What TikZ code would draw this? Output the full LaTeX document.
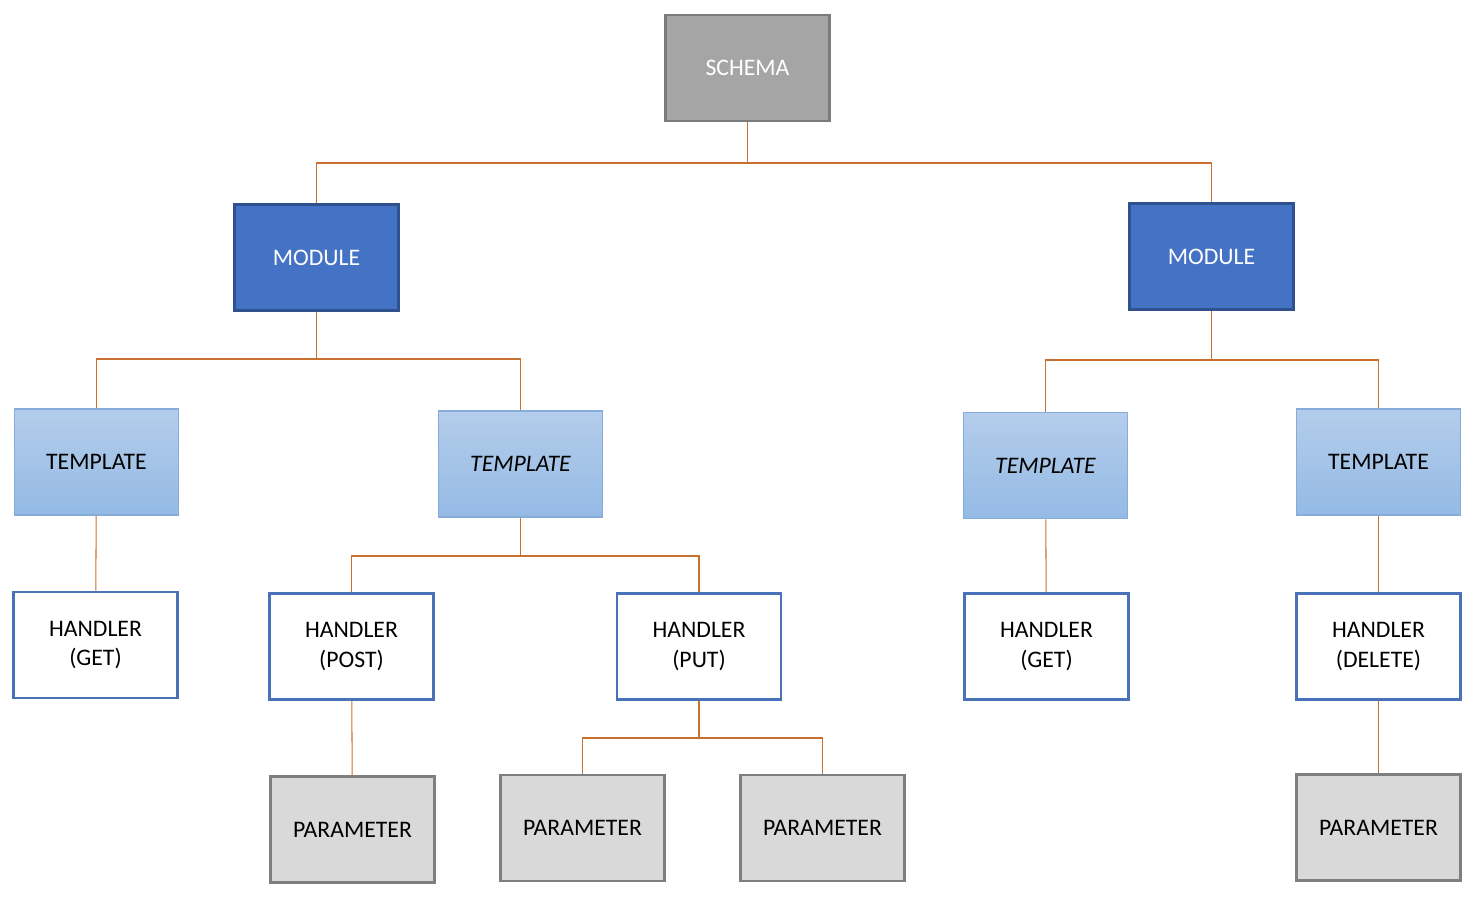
\documentclass[tikz,border=0pt]{standalone}
\usepackage{fontspec}
\setmainfont{Carlito}

\definecolor{schemafill}{HTML}{A5A5A5}
\definecolor{schemaline}{HTML}{7B7B7B}
\definecolor{modfill}{HTML}{4472C4}
\definecolor{modline}{HTML}{2F528F}
\definecolor{tpltop}{HTML}{B4CDEB}
\definecolor{tplbot}{HTML}{94BAE4}
\definecolor{tplline}{HTML}{86ACDC}
\definecolor{hdlline}{HTML}{4A72B8}
\definecolor{parfill}{HTML}{D9D9D9}
\definecolor{parline}{HTML}{7F7F7F}
\definecolor{linkc}{HTML}{C8702F}

\tikzset{
  box/.style={rectangle,draw,line width=1.5pt,inner sep=0pt,
    minimum width=3.28cm,minimum height=2.12cm,align=center,
    font=\fontsize{13.5}{16.6}\selectfont},
  schemabox/.style={box,fill=schemafill,draw=schemaline,text=white},
  modbox/.style={box,fill=modfill,draw=modline,text=white},
  tplbox/.style={box,top color=tpltop,bottom color=tplbot,draw=tplline,line width=1pt},
  hdlbox/.style={box,fill=white,draw=hdlline},
  parbox/.style={box,fill=parfill,draw=parline},
  link/.style={draw=linkc,line width=0.6pt}
}

\begin{document}
\begin{tikzpicture}[x=0.02cm,y=-0.02cm]

        \useasboundingbox (0,0) rectangle (1474,898);

        \node[schemabox] (s) at (747.5,68) {SCHEMA};

        \node[modbox] (m1) at (316.5,257.5)  {MODULE};
        \node[modbox] (m2) at (1211.5,256.5) {MODULE};

        \node[tplbox] (t1) at (96.5,462)    {TEMPLATE};
        \node[tplbox] (t2) at (520.5,464)   {\itshape TEMPLATE};
        \node[tplbox] (t3) at (1045.5,465.5) {\itshape TEMPLATE};
        \node[tplbox] (t4) at (1378.5,462)  {TEMPLATE};

        \node[hdlbox] (h1) at (95.5,645)    {HANDLER\\(GET)};
        \node[hdlbox] (h2) at (351.5,646.5) {HANDLER\\(POST)};
        \node[hdlbox] (h3) at (699,646.5)   {HANDLER\\(PUT)};
        \node[hdlbox] (h4) at (1046.5,646.5) {HANDLER\\(GET)};
        \node[hdlbox] (h5) at (1378.5,646.5) {HANDLER\\(DELETE)};

        \node[parbox] (p1) at (352.5,829.5) {PARAMETER};
        \node[parbox] (p2) at (582.5,828)   {PARAMETER};
        \node[parbox] (p3) at (822.5,828)   {PARAMETER};
        \node[parbox] (p4) at (1378.5,827.5) {PARAMETER};

        % junctions of the elbow links
        \coordinate (js) at (747.5,163);
        \coordinate (jm1) at (316.5,359);
        \coordinate (jm2) at (1211.5,360);
        \coordinate (jt2) at (520.5,556);
        \coordinate (jh3) at (699,738);

        \begin{scope}[every path/.style={link}]
          \path (s) edge (js);
          \draw (js) -| (m1);
          \draw (js) -| (m2);
          \path (m1) edge (jm1);
          \draw (jm1) -| (t1);
          \draw (jm1) -| (t2);
          \path (m2) edge (jm2);
          \draw (jm2) -| (t3);
          \draw (jm2) -| (t4);
          \path (t1) edge (h1);
          \path (t2) edge (jt2);
          \draw (jt2) -| (h2);
          \draw (jt2) -| (h3);
          \path (t3) edge (h4);
          \path (t4) edge (h5);
          \path (h2) edge (p1);
          \path (h3) edge (jh3);
          \draw (jh3) -| (p2);
          \draw (jh3) -| (p3);
          \path (h5) edge (p4);
        \end{scope}

      \end{tikzpicture}
\end{document}
